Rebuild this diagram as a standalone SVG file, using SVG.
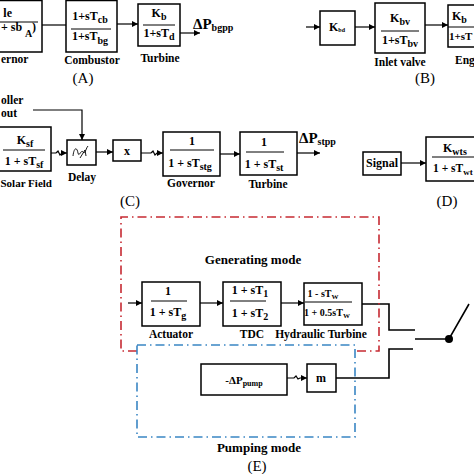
<svg xmlns="http://www.w3.org/2000/svg" width="474" height="474" viewBox="0 0 474 474">
<defs>
<marker id="ah" viewBox="0 0 10 10" refX="10" refY="5" markerWidth="6" markerHeight="6" orient="auto" markerUnits="userSpaceOnUse"><path d="M0,0 L10,5 L0,10 z" fill="#000"/></marker>
<style>
.box{fill:#fff;stroke:#000;stroke-width:1.5}
.fl{stroke:#000;stroke-width:1}
.t{font-family:"Liberation Serif",serif;font-weight:bold;fill:#000}
.f{font-size:12px;text-anchor:middle}
.lb{font-size:11.5px;text-anchor:middle}
.cap{font-family:"Liberation Serif",serif;font-size:15px;fill:#000;text-anchor:middle}
.c{fill:none;stroke:#000;stroke-width:1.2}
.cm{fill:none;stroke:#000;stroke-width:1.2;marker-end:url(#ah)}
.th{fill:none;stroke:#000;stroke-width:1.6}
.red{fill:none;stroke:#c62a32;stroke-width:1.6;stroke-dasharray:9 4 1.5 4}
.blue{fill:none;stroke:#3a86c4;stroke-width:1.6;stroke-dasharray:9 4 1.5 4}
</style>
</defs>

<g id="connectors">
<path class="c" d="M42,25 H66"/>
<path class="cm" d="M117,24 H138"/>
<path class="cm" d="M180,33 H200"/>
<path class="cm" d="M306,27 H320"/>
<path class="cm" d="M355,27 H375"/>
<path class="cm" d="M425,25 H448"/>
<path class="cm" d="M33,110 H82 V140"/>
<path class="cm" d="M51,153 H56 L58,151 L60,155 L62,153 H67"/>
<path class="cm" d="M96,152 H113"/>
<path class="cm" d="M141,153 H151 L153,151 L155,155 L157,153 H163"/>
<path class="cm" d="M220,154 H240"/>
<path class="cm" d="M297,153 H320"/>
<path class="cm" d="M401,163 H426"/>
<path class="cm" d="M128,303 H142"/>
<path class="cm" d="M200,303 H223"/>
<path class="cm" d="M281,303 H304"/>
<path class="cm" d="M287,378 H294 L296,376 L298,379 L300,378 H307"/>
<path class="th" d="M362,304 H389 V330 H415"/>
<path class="th" d="M336,378 H389 V349 H413"/>
<path class="th" d="M415,339 H449 L469,304"/>
<circle cx="449" cy="339" r="4" fill="#000"/>
</g>

<g id="governorA">
<rect class="box" x="-5" y="0.5" width="47" height="51.5"/>
<text class="t" x="12" y="17" font-size="12" text-anchor="end">le</text>
<line class="fl" x1="0" y1="22" x2="38" y2="22"/>
<text class="t" x="1" y="31" font-size="12">+ sb</text>
<text class="t" x="25" y="37" font-size="10">A</text>
<text class="t" x="32" y="31" font-size="12">)</text>
<text class="t" x="1" y="63" font-size="11.5">ernor</text>
</g>

<g id="combustor">
<rect class="box" x="66" y="0.5" width="51" height="51.5"/>
<text class="t f" x="90" y="20">1+sT<tspan font-size="10" dy="3">cb</tspan></text>
<line class="fl" x1="71" y1="29" x2="111" y2="29"/>
<text class="t f" x="90" y="40">1+sT<tspan font-size="10" dy="4">bg</tspan></text>
<text class="t lb" x="92" y="64">Combustor</text>
</g>

<g id="turbineA">
<rect class="box" x="138" y="4" width="42" height="42"/>
<text class="t f" x="159" y="17">K<tspan font-size="10" dy="3">b</tspan></text>
<line class="fl" x1="143" y1="25" x2="175" y2="25"/>
<text class="t f" x="159" y="37">1+sT<tspan font-size="10" dy="3">d</tspan></text>
<text class="t lb" x="160" y="62">Turbine</text>
</g>
<text class="t" x="193" y="29" font-size="15">ΔP<tspan font-size="10" dy="2">bgpp</tspan></text>
<text class="cap" x="83" y="83">(A)</text>

<g id="kbd">
<rect class="box" x="320" y="11" width="35" height="34"/>
<text class="t f" x="337" y="31">K<tspan font-size="6" dy="1">bd</tspan></text>
</g>
<g id="inletvalve">
<rect class="box" x="375" y="3" width="50" height="50"/>
<text class="t f" x="400" y="22">K<tspan font-size="10" dy="3">bv</tspan></text>
<line class="fl" x1="381" y1="31" x2="419" y2="31"/>
<text class="t f" x="400" y="44">1+sT<tspan font-size="10" dy="3">bv</tspan></text>
<text class="t lb" x="400" y="66">Inlet valve</text>
</g>
<g id="engine">
<rect class="box" x="448" y="5" width="40" height="42"/>
<text class="t" x="452" y="20" font-size="12">K<tspan font-size="10" dy="3">b</tspan></text>
<line class="fl" x1="448" y1="27" x2="474" y2="27"/>
<text class="t" x="449" y="40" font-size="11">1+sT</text>
<text class="t" x="455" y="64" font-size="11.5">Eng</text>
</g>
<text class="cap" x="425" y="83">(B)</text>

<text class="t" x="1" y="104" font-size="11.5">oller</text>
<text class="t" x="1" y="117" font-size="11.5">out</text>

<g id="solarfield">
<rect class="box" x="-5" y="127" width="56" height="44"/>
<text class="t f" x="25" y="144">K<tspan font-size="10" dy="3">sf</tspan></text>
<line class="fl" x1="3" y1="150" x2="45" y2="150"/>
<text class="t f" x="24" y="165">1 + sT<tspan font-size="10" dy="3">sf</tspan></text>
<text class="t" x="0.5" y="187" font-size="11">Solar Field</text>
</g>
<g id="delay">
<rect class="box" x="67" y="140" width="29" height="25"/>
<path d="M73,156 C74,147 77,147 78,153 C79,158 81,149 83,152 C85,155 86,148 88,146 M80,158 L85,150 L86,156" fill="none" stroke="#000" stroke-width="0.9"/>
<text class="t lb" x="82" y="181">Delay</text>
</g>
<g id="mult">
<rect class="box" x="113" y="140" width="28" height="21"/>
<text class="t f" x="127" y="155">x</text>
</g>
<g id="governorC">
<rect class="box" x="163" y="132" width="57" height="44"/>
<text class="t f" x="192" y="145">1</text>
<line class="fl" x1="170" y1="150" x2="214" y2="150"/>
<text class="t f" x="190" y="167">1 + sT<tspan font-size="10" dy="3">stg</tspan></text>
<text class="t lb" x="191" y="187">Governor</text>
</g>
<g id="turbineC">
<rect class="box" x="240" y="132" width="57" height="43"/>
<text class="t f" x="264" y="146">1</text>
<line class="fl" x1="246" y1="152" x2="284" y2="152"/>
<text class="t f" x="264" y="168">1 + sT<tspan font-size="10" dy="3">st</tspan></text>
<text class="t lb" x="268" y="188">Turbine</text>
</g>
<text class="t" x="299" y="143" font-size="15">ΔP<tspan font-size="10" dy="2">stpp</tspan></text>
<text class="cap" x="130" y="206">(C)</text>

<g id="signal">
<rect class="box" x="363" y="152" width="38" height="23"/>
<text class="t f" x="382" y="167" font-size="11.5">Signal</text>
</g>
<g id="kwts">
<rect class="box" x="426" y="137" width="60" height="44"/>
<text class="t" x="443" y="152" font-size="12">K<tspan font-size="10" dy="3">wts</tspan></text>
<line class="fl" x1="432" y1="157" x2="474" y2="157"/>
<text class="t" x="433" y="172" font-size="11.5">1 + sT<tspan font-size="9" dy="3">wt</tspan></text>
</g>
<text class="cap" x="447" y="206">(D)</text>

<path class="red" d="M137,351 H121 V217 H379 V351 H355"/>
<path class="blue" d="M137,345 H355 V437 H137 Z"/>
<text class="t" x="253" y="264" font-size="13" text-anchor="middle">Generating mode</text>

<g id="actuator">
<rect class="box" x="142" y="282" width="58" height="44"/>
<text class="t f" x="168" y="295">1</text>
<line class="fl" x1="151" y1="301" x2="187" y2="301"/>
<text class="t f" x="168" y="316">1 + sT<tspan font-size="10" dy="3">g</tspan></text>
<text class="t lb" x="171" y="338">Actuator</text>
</g>
<g id="tdc">
<rect class="box" x="223" y="282" width="58" height="44"/>
<text class="t f" x="250" y="294">1 + sT<tspan font-size="10" dy="3">1</tspan></text>
<line class="fl" x1="230" y1="301" x2="266" y2="301"/>
<text class="t f" x="250" y="317">1 + sT<tspan font-size="10" dy="3">2</tspan></text>
<text class="t lb" x="252" y="338">TDC</text>
</g>
<g id="hydroturbine">
<rect class="box" x="304" y="283" width="58" height="42"/>
<text class="t" x="323" y="297" font-size="10" text-anchor="middle">1 - sT<tspan font-size="7" dy="2">W</tspan></text>
<line class="fl" x1="305" y1="302" x2="352" y2="302"/>
<text class="t" x="327" y="316" font-size="10" text-anchor="middle">1 + 0.5sT<tspan font-size="7" dy="2">W</tspan></text>
<text class="t lb" x="321" y="338">Hydraulic Turbine</text>
</g>
<g id="pump">
<rect class="box" x="201" y="364" width="86" height="31"/>
<text class="t" x="244" y="384" font-size="11" text-anchor="middle">-ΔP<tspan font-size="8" dy="2">pump</tspan></text>
</g>
<g id="mgain">
<rect class="box" x="307" y="364" width="29" height="28"/>
<text class="t f" x="321" y="382">m</text>
</g>
<text class="t" x="259" y="452" font-size="13" text-anchor="middle">Pumping mode</text>
<text class="cap" x="257" y="471">(E)</text>
</svg>
